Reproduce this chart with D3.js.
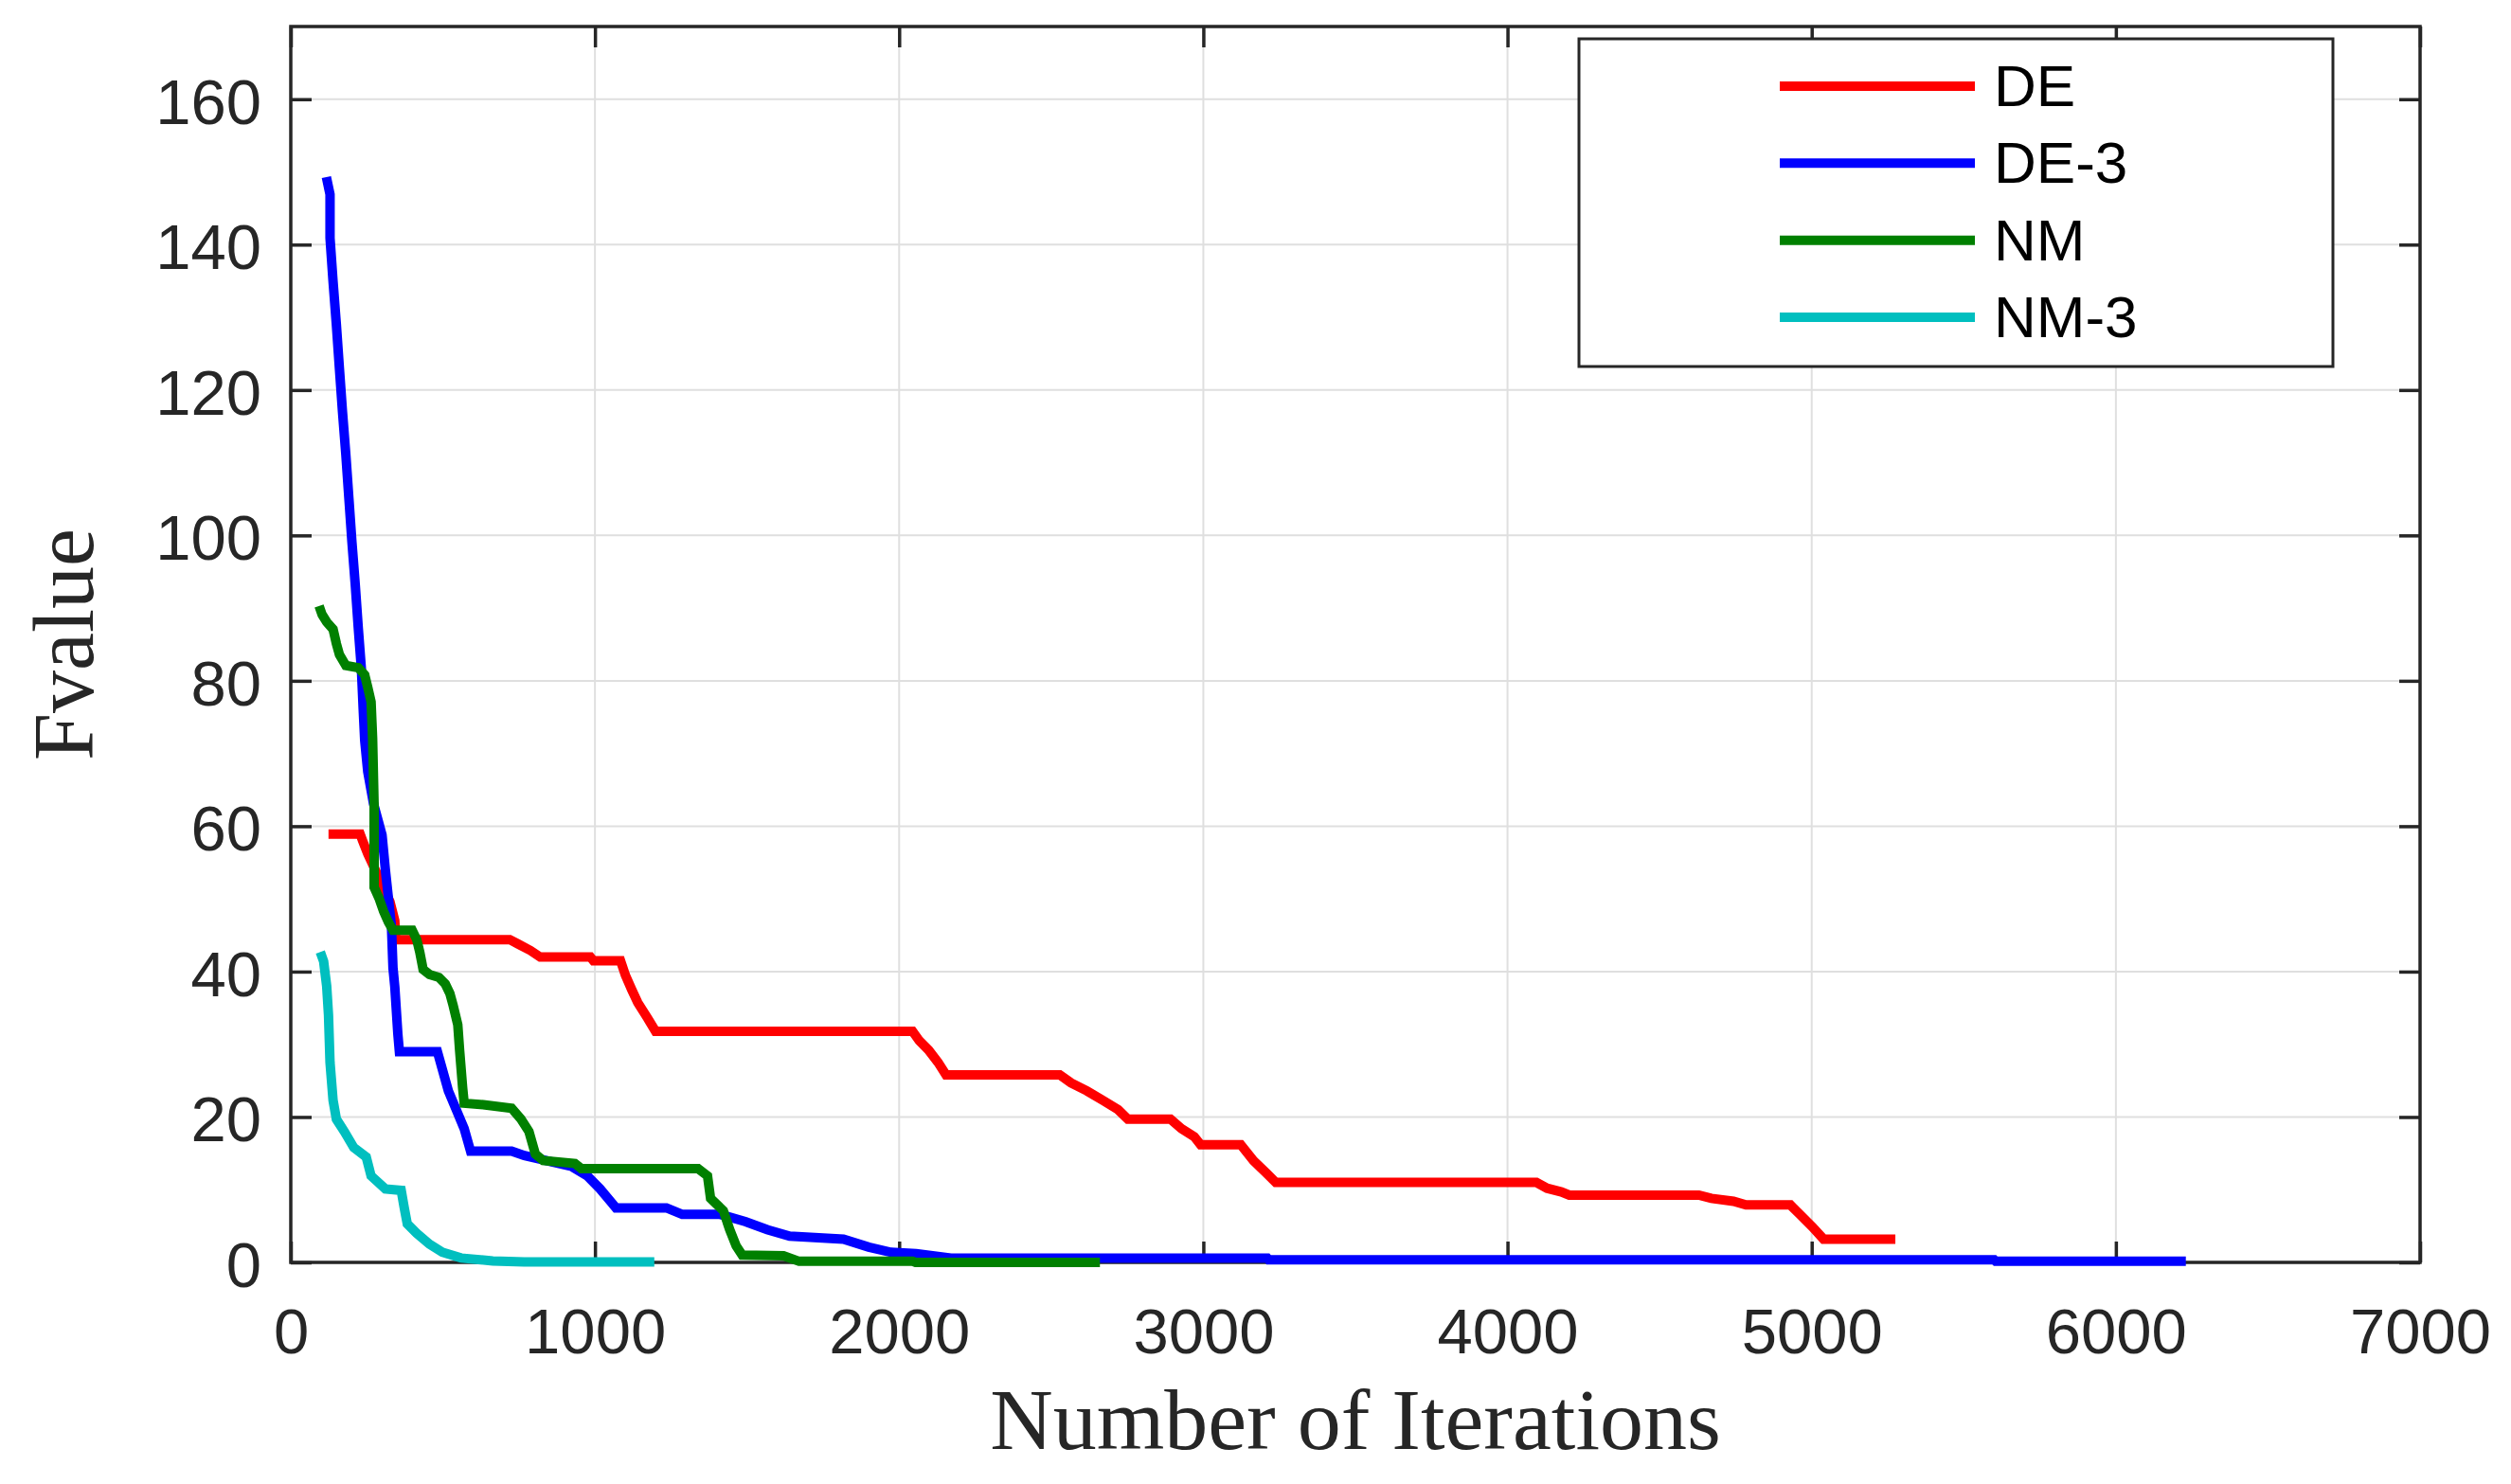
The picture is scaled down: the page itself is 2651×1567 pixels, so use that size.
<!DOCTYPE html>
<html>
<head>
<meta charset="utf-8">
<script src="https://cdn.jsdelivr.net/npm/d3@7"></script>
<style>
  body { margin: 0; background: #fff; }
  .tick text { font-family: "Liberation Sans", Arial, sans-serif; }
</style>
</head>
<body>
<div class="svgContainer"></div>
<script>
var w = 2651;
var h = 1567;

// iterations / function value for each run
var deIter  = [124, 228, 237, 253, 300, 326, 342, 345, 720, 747, 788, 820, 985, 995, 1084, 1100, 1121, 1141, 1173, 1199, 2044, 2066, 2097, 2128, 2154, 2528, 2565, 2617, 2669, 2720, 2752, 2892, 2928, 2970, 2991, 3123, 3165, 3207, 3238, 4095, 4130, 4177, 4203, 4629, 4670, 4743, 4784, 4930, 4961, 5002, 5039, 5275];
var deVal   = [58.9, 58.9, 57.9, 56.2, 52, 49.6, 47, 44.4, 44.4, 43.8, 42.9, 42, 42, 41.5, 41.5, 39.5, 37.5, 35.7, 33.6, 31.8, 31.8, 30.5, 29.2, 27.5, 25.8, 25.8, 24.7, 23.6, 22.3, 21, 19.7, 19.7, 18.4, 17.3, 16.2, 16.2, 14, 12.3, 11, 11, 10.2, 9.7, 9.25, 9.25, 8.8, 8.4, 7.9, 7.9, 6.6, 4.9, 3.2, 3.2];

var de3Iter = [117, 129, 129, 139, 150, 160, 170, 181, 191, 201, 212, 222, 232, 238, 243, 253, 272, 300, 311, 321, 331, 336, 342, 352, 357, 482, 498, 518, 549, 570, 591, 726, 768, 923, 975, 1017, 1069, 1235, 1287, 1412, 1495, 1567, 1640, 1817, 1900, 1973, 2056, 2170, 3210, 3215, 5600, 5605, 6230];
var de3Val  = [149.3, 146.9, 140.9, 134.9, 128.9, 122.9, 117, 111.1, 105.1, 99.1, 93.2, 87.2, 81.7, 76.1, 71.8, 67.5, 63.1, 58.8, 54, 50.1, 46.2, 40.5, 37.9, 31.4, 29, 29, 26.6, 23.6, 20.5, 18.4, 15.3, 15.3, 14.7, 13.2, 11.9, 10.1, 7.5, 7.5, 6.6, 6.6, 5.6, 4.5, 3.6, 3.2, 2.1, 1.4, 1.2, 0.6, 0.6, 0.35, 0.35, 0.15, 0.15];

var nmIter  = [93, 103, 118, 139, 150, 160, 181, 222, 243, 253, 264, 269, 274, 274, 290, 305, 321, 336, 399, 414, 424, 435, 456, 487, 508, 523, 534, 549, 555, 565, 570, 633, 726, 757, 783, 804, 830, 934, 955, 1339, 1370, 1380, 1422, 1443, 1464, 1484, 1620, 1671, 2044, 2054, 2660];
var nmVal   = [90.3, 89.1, 88.1, 87.1, 85.1, 83.6, 82.1, 81.8, 80.8, 79.1, 77.1, 72.1, 62.7, 51.6, 50.1, 48.3, 46.8, 45.7, 45.7, 44.4, 42.7, 40.3, 39.6, 39.2, 38.3, 37, 35.3, 32.7, 29.2, 24, 21.9, 21.7, 21.2, 19.7, 18, 14.9, 14, 13.6, 12.9, 12.9, 11.9, 8.8, 7.1, 4.5, 2.3, 1, 0.9, 0.15, 0.15, 0, 0];

var nm3Iter = [97, 108, 118, 124, 129, 139, 150, 176, 207, 248, 264, 311, 363, 373, 383, 414, 456, 498, 560, 664, 767, 1195];
var nm3Val  = [42.7, 41.4, 38, 34, 27.5, 22.3, 19.7, 18, 15.8, 14.5, 11.9, 10.1, 9.9, 7.5, 5.3, 4, 2.5, 1.4, 0.6, 0.2, 0.05, 0.05];

var seriesNames = ["DE", "DE-3", "NM", "NM-3"];
var seriesColors = ["#ff0000", "#0000ff", "#008000", "#00bfbf"];
var xTicks = [0, 1000, 2000, 3000, 4000, 5000, 6000, 7000];
var yTicks = [0, 20, 40, 60, 80, 100, 120, 140, 160];

var runs = [
  { name: seriesNames[0], color: seriesColors[0], x: deIter, y: deVal },
  { name: seriesNames[1], color: seriesColors[1], x: de3Iter, y: de3Val },
  { name: seriesNames[2], color: seriesColors[2], x: nmIter, y: nmVal },
  { name: seriesNames[3], color: seriesColors[3], x: nm3Iter, y: nm3Val }
];

// plot box (window.top is read-only, so no bare "top")
var plotL = 307, plotR = 2555, plotT = 28, plotB = 1333;
var axisColor = "#262626";

var svg = d3.select(".svgContainer")
            .append("svg")
            .attr("width", w)
            .attr("height", h);

var xScale = d3.scaleLinear().domain([0, 7000]).range([plotL, plotR]);
var yScale = d3.scaleLinear().domain([0, 170]).range([plotB, plotT]);

// grid
svg.append("g")
   .selectAll("line")
   .data(xTicks)
   .enter()
   .append("line")
   .attr("x1", d => xScale(d)).attr("x2", d => xScale(d))
   .attr("y1", plotT).attr("y2", plotB)
   .attr("stroke", "#dfdfdf").attr("stroke-width", 2);

svg.append("g")
   .selectAll("line")
   .data(yTicks)
   .enter()
   .append("line")
   .attr("x1", plotL).attr("x2", plotR)
   .attr("y1", d => yScale(d)).attr("y2", d => yScale(d))
   .attr("stroke", "#dfdfdf").attr("stroke-width", 2);

// axes with inward ticks on all four sides
var tickLen = 22;
var xAxis = d3.axisBottom(xScale).tickValues(xTicks).tickSizeInner(-tickLen).tickSizeOuter(0).tickPadding(48).tickFormat(d3.format("d"));
var yAxis = d3.axisLeft(yScale).tickValues(yTicks).tickSizeInner(-tickLen).tickSizeOuter(0).tickPadding(31);

var gx = svg.append("g").attr("transform", "translate(0," + plotB + ")").call(xAxis);
var gy = svg.append("g").attr("transform", "translate(" + plotL + ",0)").call(yAxis);
var gxt = svg.append("g").attr("transform", "translate(0," + plotT + ")")
             .call(d3.axisTop(xScale).tickValues(xTicks).tickSizeInner(-tickLen).tickSizeOuter(0).tickFormat(""));
var gyr = svg.append("g").attr("transform", "translate(" + plotR + ",0)")
             .call(d3.axisRight(yScale).tickValues(yTicks).tickSizeInner(-tickLen).tickSizeOuter(0).tickFormat(""));

[gx, gy, gxt, gyr].forEach(function (g) {
  g.select(".domain").remove();
  g.selectAll(".tick line").attr("stroke", axisColor).attr("stroke-width", 3.5);
  g.selectAll(".tick text").attr("fill", axisColor).style("font-size", "67px");
});
gx.selectAll(".tick text").attr("dy", "0.71em");
gy.selectAll(".tick text").attr("dy", "0.38em");

svg.append("rect")
   .attr("x", plotL).attr("y", plotT)
   .attr("width", plotR - plotL).attr("height", plotB - plotT)
   .attr("fill", "none")
   .attr("stroke", axisColor)
   .attr("stroke-width", 3.5);

// curves
var line = d3.line()
             .x(d => xScale(d[0]))
             .y(d => yScale(d[1]));

svg.append("g")
   .selectAll("path")
   .data(runs)
   .enter()
   .append("path")
   .attr("d", d => line(d.x.map((v, i) => [v, d.y[i]])))
   .attr("fill", "none")
   .attr("stroke", d => d.color)
   .attr("stroke-width", 10)
   .attr("stroke-linejoin", "miter")
   .attr("stroke-linecap", "butt");

// axis titles
svg.append("text")
   .attr("x", (plotL + plotR) / 2)
   .attr("y", 1530)
   .attr("text-anchor", "middle")
   .attr("fill", axisColor)
   .style("font-family", "'Liberation Serif', 'Times New Roman', serif")
   .style("font-size", "92px")
   .text("Number of Iterations");

svg.append("text")
   .attr("transform", "translate(98," + ((plotT + plotB) / 2) + ") rotate(-90)")
   .attr("text-anchor", "middle")
   .attr("fill", axisColor)
   .style("font-family", "'Liberation Serif', 'Times New Roman', serif")
   .style("font-size", "90px")
   .text("Fvalue");

// legend
var legend = svg.append("g");
legend.append("rect")
      .attr("x", 1667).attr("y", 41)
      .attr("width", 796).attr("height", 346)
      .attr("fill", "#fff")
      .attr("stroke", axisColor)
      .attr("stroke-width", 3);

var rowY = d3.scalePoint().domain(seriesNames).range([91, 335]);

var rows = legend.selectAll(".row")
                 .data(runs)
                 .enter()
                 .append("g")
                 .attr("class", "row")
                 .attr("transform", d => "translate(0," + rowY(d.name) + ")");

rows.append("line")
    .attr("x1", 1879).attr("x2", 2085)
    .attr("y1", 0).attr("y2", 0)
    .attr("stroke", d => d.color)
    .attr("stroke-width", 10);

rows.append("text")
    .attr("x", 2105)
    .attr("y", 21)
    .attr("fill", "#000")
    .style("font-family", "'Liberation Sans', Arial, sans-serif")
    .style("font-size", "62px")
    .text(d => d.name);
</script>
</body>
</html>
